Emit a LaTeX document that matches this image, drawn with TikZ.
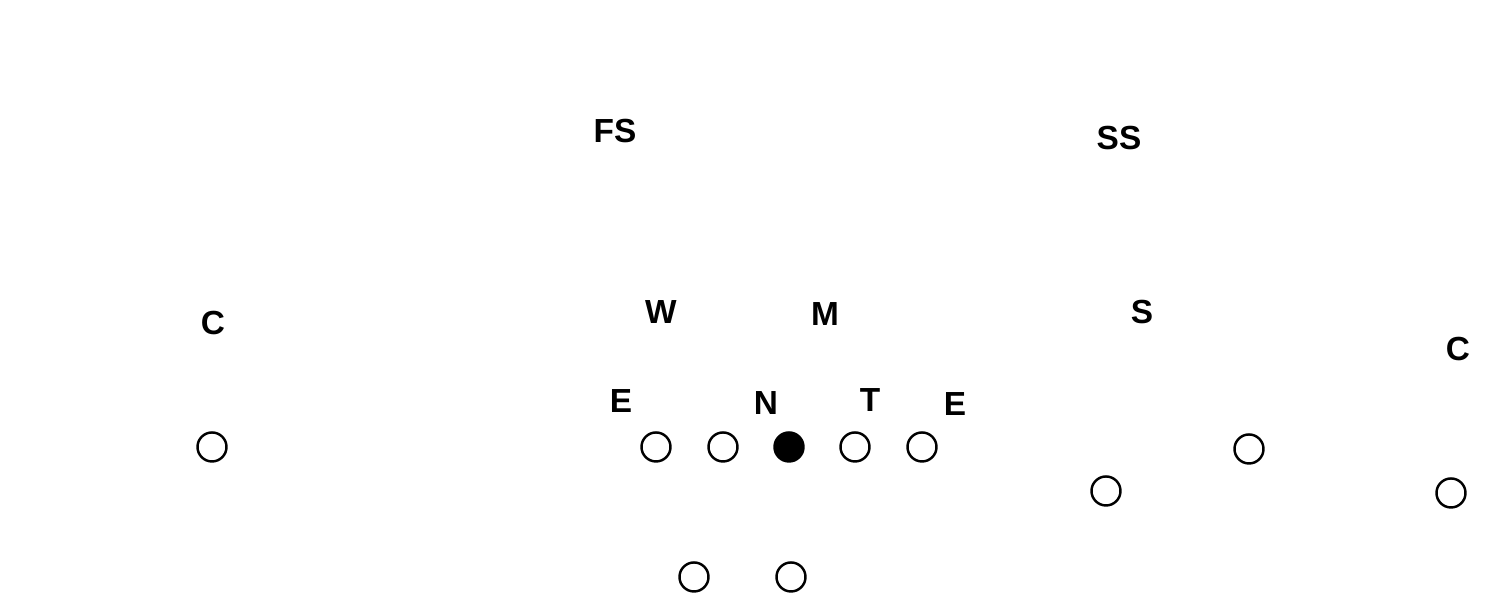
\documentclass[tikz,border=0pt]{standalone}
\usepackage{fontspec}
\setmainfont{Liberation Sans}
\usepackage{tikz}
\usetikzlibrary{positioning}
\tikzset{%
	player/.style  = {draw, circle, line width=0.7pt, minimum size=0.29cm, inner sep=0pt},
	center/.style  = {player, fill=black},
	poslbl/.style  = {font=\fontsize{9.5}{11}\selectfont\bfseries, inner sep=0pt},
}
\begin{document}
\begin{tikzpicture}
		\useasboundingbox (0,0) rectangle (15,5.93);
		% offense
		\node[player] (wl) at (2.12,1.46) {};
		\node[player] (lt) at (6.56,1.46) {};
		\node[player] (lg) at (7.23,1.46) {};
		\node[center] (ce) at (7.89,1.46) {};
		\node[player] (rg) at (8.55,1.46) {};
		\node[player] (rt) at (9.22,1.46) {};
		\node[player] (fb) at (6.94,0.16) {};
		\node[player] (tb) at (7.91,0.16) {};
		\node[player] (te) at (11.06,1.02) {};
		\node[player] (sl) at (12.49,1.44) {};
		\node[player] (wr) at (14.51,1.00) {};
		
		% defense
		\node[poslbl] (fs) at (6.15,4.62) {FS};
		\node[poslbl] (ss) at (11.19,4.55) {SS};
		\node[poslbl] (cl) at (2.13,2.70) {C};
		\node[poslbl] (wb) at (6.61,2.81) {W};
		\node[poslbl] (mb) at (8.25,2.79) {M};
		\node[poslbl] (sb) at (11.42,2.81) {S};
		\node[poslbl] (cr) at (14.58,2.44) {C};
		\node[poslbl] (el) at (6.21,1.92) {E};
		\node[poslbl] (nt) at (7.66,1.90) {N};
		\node[poslbl] (tk) at (8.70,1.93) {T};
		\node[poslbl] (er) at (9.55,1.89) {E};
\end{tikzpicture}
\end{document}
